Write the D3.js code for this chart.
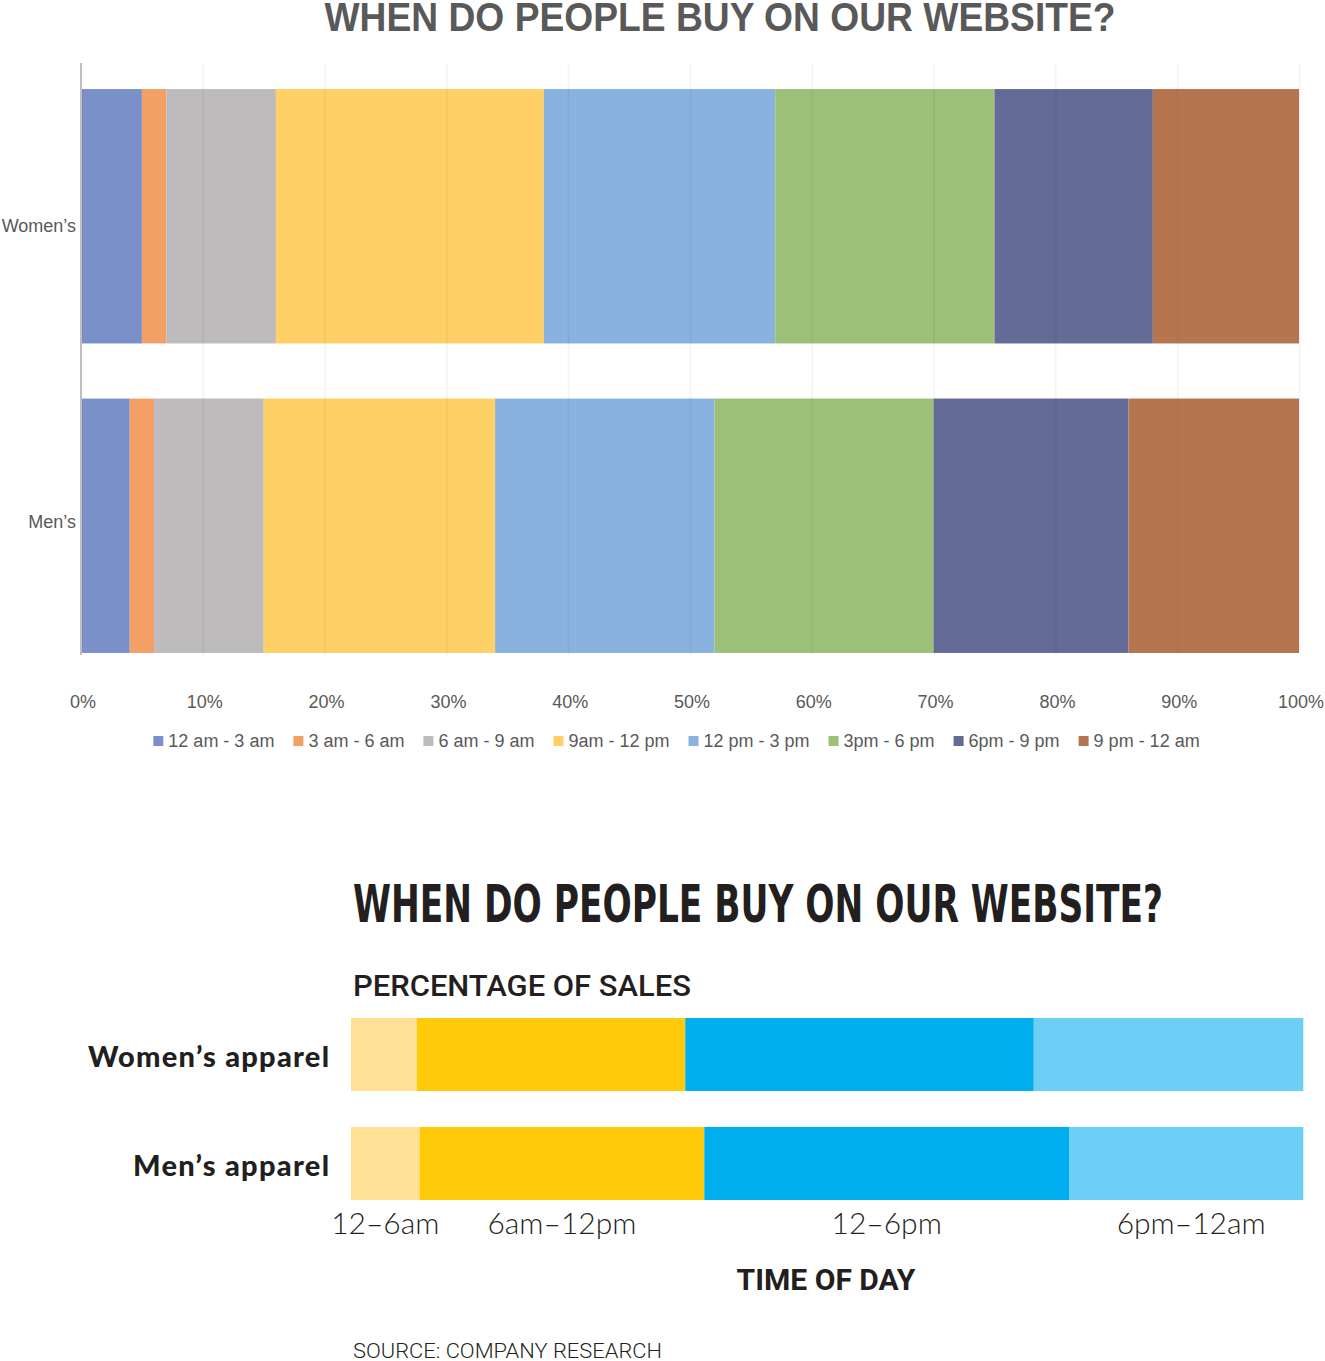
<!DOCTYPE html>
<html>
<head>
<meta charset="utf-8">
<script src="https://cdn.jsdelivr.net/npm/d3@7"></script>
<style>
  body { margin: 0; background: #fff; }
  svg { display: block; }
</style>
</head>
<body>
<div id="chart"></div>
<script>
// Top chart data: share of sales by 3-hour slot (percent).
const slots = ["12 am - 3 am", "3 am - 6 am", "6 am - 9 am", "9am - 12 pm",
               "12 pm - 3 pm", "3pm - 6 pm", "6pm - 9 pm", "9 pm - 12 am"];
const groups = ["Women’s", "Men’s"];
const womenSlots = [5, 2, 9, 22, 19, 18, 13, 12];
const menSlots = [4, 2, 9, 19, 18, 18, 16, 14];
const xTicks = [0, 10, 20, 30, 40, 50, 60, 70, 80, 90, 100];

// Bottom chart data: share of sales by 6-hour block (percent).
const blocks = ["12–6am", "6am–12pm", "12–6pm", "6pm–12am"];
const apparel = ["Women’s apparel", "Men’s apparel"];
const womenBlocks = [6.9, 28.2, 36.6, 28.3];
const menBlocks = [7.2, 29.9, 38.3, 24.6];

const slotColors = ["#7a90c8", "#f2a065", "#bdbbbc", "#ffd066",
                    "#8ab2df", "#9cc078", "#636b96", "#b5764f"];
const blockColors = ["#fee096", "#feca0a", "#00aeef", "#6dcff6"];

const W = 1325, H = 1361;
const svg = d3.select("#chart").append("svg")
  .attr("width", W).attr("height", H);

const grey = "#595959";
const sans = "'Liberation Sans', Arial, sans-serif";

// ---------- top chart ----------
svg.append("text")
  .attr("x", 720).attr("y", 31)
  .attr("text-anchor", "middle")
  .attr("font-family", sans).attr("font-weight", "bold")
  .attr("font-size", 40).attr("fill", grey)
  .attr("textLength", 791).attr("lengthAdjust", "spacingAndGlyphs")
  .text("WHEN DO PEOPLE BUY ON OUR WEBSITE?");

let top_x = d3.scaleLinear().domain([0, 100]).range([81, 1299]);
let top_y = d3.scaleBand().domain(groups).range([61.5, 680.5])
  .paddingInner(0.178).paddingOuter(0.089);

const stackRows = (rows, keys) => rows.map((vals, i) => {
  let acc = 0;
  return vals.map((v, j) => {
    const seg = {group: keys[i], key: j, x0: acc, x1: acc + v};
    acc += v;
    return seg;
  });
});

const topSegs = stackRows([womenSlots, menSlots], groups).flat();

svg.append("g").selectAll("rect")
  .data(topSegs)
  .enter().append("rect")
  .attr("x", d => top_x(d.x0))
  .attr("width", d => top_x(d.x1) - top_x(d.x0))
  .attr("y", d => top_y(d.group))
  .attr("height", top_y.bandwidth())
  .attr("fill", d => slotColors[d.key]);

// Gridlines (drawn faintly over the bars)
svg.append("g")
  .attr("transform", "translate(0,655)")
  .call(d3.axisBottom(top_x).tickValues(xTicks).tickSize(-592).tickFormat(""))
  .call(g => g.select(".domain").remove())
  .call(g => g.selectAll(".tick line").attr("stroke", "#000").attr("stroke-opacity", 0.04).attr("stroke-width", 2));

// Left axis line
svg.append("line")
  .attr("x1", top_x(0)).attr("x2", top_x(0))
  .attr("y1", 63).attr("y2", 655)
  .attr("stroke", "#bfbfbf").attr("stroke-width", 2);

// Tick labels
svg.append("g").selectAll("text")
  .data(xTicks)
  .enter().append("text")
  .attr("x", d => top_x(d) + 2)
  .attr("y", 708)
  .attr("text-anchor", "middle")
  .attr("font-family", sans).attr("font-size", 18).attr("fill", grey)
  .text(d => d + "%");

// Category labels
const labelShift = {"Women’s": 16, "Men’s": 2};
svg.append("g").selectAll("text")
  .data(groups)
  .enter().append("text")
  .attr("x", 76)
  .attr("y", d => top_y(d) + top_y.bandwidth() / 2 + labelShift[d])
  .attr("text-anchor", "end")
  .attr("font-family", sans).attr("font-size", 18).attr("fill", grey)
  .text(d => d);

// Legend
const legend = svg.append("g");
let lx = 0;
slots.forEach((s, i) => {
  const item = legend.append("g").attr("transform", "translate(" + lx + ",0)");
  item.append("rect").attr("x", 0).attr("y", 736).attr("width", 10).attr("height", 10)
    .attr("fill", slotColors[i]);
  const t = item.append("text").attr("x", 15).attr("y", 747)
    .attr("font-family", sans).attr("font-size", 18).attr("fill", grey)
    .text(s);
  lx += 15 + t.node().getComputedTextLength() + 19;
});
legend.attr("transform", "translate(" + (676.5 - (lx - 19) / 2) + ",0)");

// ---------- bottom chart ----------
const ink = "#231f20";

svg.append("text")
  .attr("x", 353).attr("y", 922)
  .attr("font-family", "'DejaVu Sans Condensed', 'DejaVu Sans', sans-serif")
  .attr("font-weight", "bold").attr("font-size", 52).attr("fill", ink)
  .attr("textLength", 810).attr("lengthAdjust", "spacingAndGlyphs")
  .text("WHEN DO PEOPLE BUY ON OUR WEBSITE?");

svg.append("text")
  .attr("x", 353).attr("y", 996)
  .attr("font-family", "Roboto, 'Open Sans', sans-serif")
  .attr("font-weight", 500).attr("font-size", 30).attr("fill", ink)
  .attr("textLength", 338).attr("lengthAdjust", "spacingAndGlyphs")
  .text("PERCENTAGE OF SALES");

let bot_x = d3.scaleLinear().domain([0, 100]).range([351, 1303.3]);
let bot_y = d3.scaleBand().domain(apparel).range([1018 - 18, 1200 + 18])
  .paddingInner(36 / 109).paddingOuter(18 / 109);

const botRows = stackRows([womenBlocks, menBlocks], apparel);

svg.append("g").selectAll("rect")
  .data(botRows.flat())
  .enter().append("rect")
  .attr("x", d => bot_x(d.x0))
  .attr("width", d => bot_x(d.x1) - bot_x(d.x0))
  .attr("y", d => bot_y(d.group))
  .attr("height", bot_y.bandwidth())
  .attr("fill", d => blockColors[d.key]);

const labelWidth = {"Women’s apparel": 241, "Men’s apparel": 196};
svg.append("g").selectAll("text")
  .data(apparel)
  .enter().append("text")
  .attr("x", 329)
  .attr("y", d => bot_y(d) + bot_y.bandwidth() / 2 + 12)
  .attr("text-anchor", "end")
  .attr("font-family", "Lato, 'Open Sans', sans-serif")
  .attr("font-weight", 900).attr("font-size", 29).attr("fill", ink)
  .attr("textLength", d => labelWidth[d]).attr("lengthAdjust", "spacing")
  .text(d => d);

// Time-of-day labels centred under the men's segments
svg.append("g").selectAll("text")
  .data(botRows[1])
  .enter().append("text")
  .attr("x", d => bot_x((d.x0 + d.x1) / 2) + (d.key === 3 ? 5 : 0))
  .attr("y", 1234)
  .attr("text-anchor", "middle")
  .attr("font-family", "Lato, Roboto, sans-serif")
  .attr("font-weight", 300).attr("font-size", 30).attr("fill", ink)
  .text(d => blocks[d.key]);

svg.append("text")
  .attr("x", 826).attr("y", 1290)
  .attr("text-anchor", "middle")
  .attr("font-family", "Roboto, 'Open Sans', sans-serif")
  .attr("font-weight", "bold").attr("font-size", 29).attr("fill", ink)
  .attr("textLength", 179).attr("lengthAdjust", "spacingAndGlyphs")
  .text("TIME OF DAY");

svg.append("text")
  .attr("x", 353).attr("y", 1358)
  .attr("font-family", "Roboto, 'Open Sans', sans-serif")
  .attr("font-weight", 300).attr("font-size", 20).attr("fill", ink)
  .attr("textLength", 309).attr("lengthAdjust", "spacingAndGlyphs")
  .text("SOURCE: COMPANY RESEARCH");
</script>
</body>
</html>
